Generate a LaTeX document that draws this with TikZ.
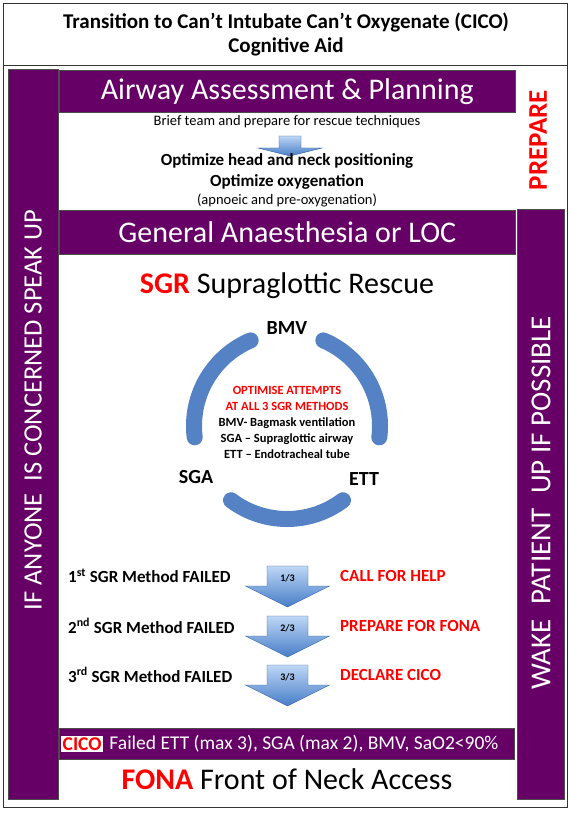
\documentclass[tikz,border=0pt]{standalone}
\usepackage{fontspec}
\setmainfont{Carlito}
\usetikzlibrary{positioning}
\definecolor{cicopurple}{RGB}{102,0,102}
\definecolor{ringblue}{RGB}{84,130,196}
\definecolor{arrowtop}{RGB}{190,215,245}
\definecolor{arrowbot}{RGB}{70,125,200}
\newcommand{\fsz}[1]{\fontsize{#1}{1.2\dimexpr#1pt}\selectfont}
% block arrow: x, top, half shaft, half head, head y, tip y
\newcommand{\blockarrow}[6]{\shade[top color=arrowtop, bottom color=arrowbot, draw=arrowbot!80!black, line width=0.4]
(#1-#3,#2) -- (#1+#3,#2) -- (#1+#3,#5) -- (#1+#4,#5) -- (#1,#6) -- (#1-#4,#5) -- (#1-#3,#5) -- cycle;}
\tikzset{
  pbox/.style={fill=cicopurple, draw=black!70, line width=0.6, inner sep=0pt, anchor=north west},
  boxtxt/.style={text=white, font=\fsz{30}, inner sep=0pt},
  sidetxt/.style={text=white, font=\fsz{26.5}, rotate=90, inner sep=0pt},
  failtxt/.style={font=\bfseries\fsz{17}, anchor=west, inner sep=0pt},
  actiontxt/.style={text=red, font=\bfseries\fsz{17}, anchor=west, inner sep=0pt},
  steptxt/.style={font=\bfseries\fsz{10}, inner sep=0pt},
  methodtxt/.style={font=\bfseries\fsz{20}, inner sep=0pt},
  ringarc/.style={ringblue, line width=16, line cap=round}
}
\begin{document}
\begin{tikzpicture}[x=1pt, y=-1pt]
\useasboundingbox[fill=white] (0,0) rectangle (571,821);
\draw[black!80, line width=0.8] (3,3) rectangle (567,807);
\draw[black!80, line width=0.8] (3,65) -- (567,65);
\node[font=\bfseries\fontsize{21}{24}\selectfont, align=center, inner sep=0pt] (title) at (286,34)
  {Transition to Can’t Intubate Can’t Oxygenate (CICO)\\Cognitive Aid};

% side bars
\node[pbox, minimum width=50, minimum height=730] (leftbar) at (8,69) {};
\node[sidetxt] (speakup) at (33,410) {IF ANYONE\ \ IS CONCERNED SPEAK UP};
\node[pbox, minimum width=47, minimum height=590] (rightbar) at (517,209) {};
\node[sidetxt, font=\fsz{29}] (wakeup) at (541,503) {WAKE\hspace{15pt}PATIENT\hspace{15pt}UP IF POSSIBLE};
\node[text=red, font=\bfseries\fsz{27}, rotate=90, inner sep=0pt] (prepare) at (538,140) {PREPARE};

% prepare section
\node[pbox, minimum width=456, minimum height=42] (airwaybox) at (59,70) {};
\node[boxtxt] (airway) at (airwaybox.center) {Airway Assessment \& Planning};
\node[font=\fsz{14.5}, inner sep=0pt] (brief) at (287,122) {Brief team and prepare for rescue techniques};
\blockarrow{290}{136}{11}{32}{148}{156}
\node[font=\bfseries\fsz{17}, inner sep=0pt] (optpos) at (287,161) {Optimize head and neck positioning};
\node[font=\bfseries\fsz{17}, inner sep=0pt] (optoxy) at (287,182) {Optimize oxygenation};
\node[font=\fsz{14.5}, inner sep=0pt] (apnoeic) at (287,200) {(apnoeic and pre-oxygenation)};

% supraglottic rescue
\node[pbox, minimum width=456, minimum height=44] (gabox) at (59,210) {};
\node[boxtxt] (ga) at (gabox.center) {General Anaesthesia or LOC};
\node[font=\fsz{30}, inner sep=0pt] (sgr) at (287,286) {\textcolor{red}{\bfseries SGR} Supraglottic Rescue};
\coordinate (ring) at (287,426);
\foreach \c in {-150,-30,90}
  \draw[ringarc] (ring) ++(\c-37:93) arc[start angle=\c-37, end angle=\c+37, radius=93];
\node[methodtxt] (bmv) at (287,328) {BMV};
\node[methodtxt] (sga) at (196,477) {SGA};
\node[methodtxt] (ett) at (364,479) {ETT};
\node[font=\bfseries\fontsize{12.5}{16}\selectfont, align=center, inner sep=0pt] (methods) at (287,422)
  {\textcolor{red}{OPTIMISE ATTEMPTS}\\\textcolor{red}{AT ALL 3 SGR METHODS}\\BMV- Bagmask ventilation\\SGA – Supraglottic airway\\ETT – Endotracheal tube};

% failed attempts
\foreach \t/\n in {566/1,616/2,665/3} {
  \blockarrow{287.5}{\t}{20.5}{42}{\t+20}{\t+41}
  \node[steptxt] (step\n) at (287.5,\t+12) {\n/3};
}
\node[failtxt] (fail1) at (68,576) {1\textsuperscript{st} SGR Method FAILED};
\node[failtxt] (fail2) at (68,626) {2\textsuperscript{nd} SGR Method FAILED};
\node[failtxt] (fail3) at (68,675) {3\textsuperscript{rd} SGR Method FAILED};
\node[actiontxt] (help) at (340,576) {CALL FOR HELP};
\node[actiontxt] (fona1) at (340,626) {PREPARE FOR FONA};
\node[actiontxt] (declare) at (340,675) {DECLARE CICO};

% CICO and FONA
\node[pbox, minimum width=455, minimum height=31] (cicobox) at (59,728) {};
\node[fill=white, text=red, font=\bfseries\fsz{19.5}, inner sep=1.5pt, anchor=west] (cicotag) at (61,744) {CICO};
\node[text=white, font=\fsz{19.5}, inner sep=0pt, right=6pt of cicotag] (cicotxt) {Failed ETT (max 3), SGA (max 2), BMV, SaO2<90\%};
\node[font=\fsz{30}, inner sep=0pt] (fona) at (287,779) {\textcolor{red}{\bfseries FONA} Front of Neck Access};
\end{tikzpicture}
\end{document}
